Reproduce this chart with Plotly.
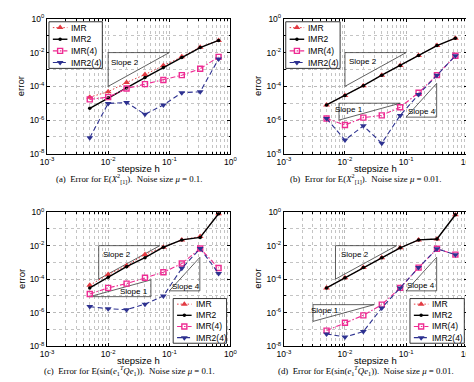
import plotly.graph_objects as go

# ---------------- data ----------------
h = [0.005, 0.01, 0.02, 0.04, 0.08, 0.16, 0.32, 0.64]
series_names = ["IMR", "IMR2", "IMR(4)", "IMR2(4)"]

a_imr = [2.3e-5, 4.8e-5, 1.7e-4, 5.0e-4, 1.7e-3, 5.6e-3, 2.1e-2, 5.3e-2]
a_imr2 = [5.0e-6, 2.1e-5, 8.0e-5, 3.3e-4, 1.3e-3, 5.2e-3, 2.0e-2, 5.3e-2]
a_imr4 = [1.7e-5, 2.3e-5, 7.4e-5, 1.35e-4, 2.4e-4, 4.6e-4, 1.1e-3, 5.6e-3]
a_imr24 = [9.0e-8, 9.8e-6, 1.1e-5, 2.2e-6, 7.9e-6, 4.2e-5, 4.8e-5, 4.2e-3]

b_imr = [7.9e-6, 2.9e-5, 1.1e-4, 4.6e-4, 1.7e-3, 6.7e-3, 2.6e-2, 7.2e-2]
b_imr2 = [7.9e-6, 2.9e-5, 1.1e-4, 4.6e-4, 1.7e-3, 6.7e-3, 2.6e-2, 7.2e-2]
b_imr4 = [1.25e-6, 5.1e-7, 1.4e-6, 1.9e-6, 5.8e-6, 4.2e-5, 4.6e-4, 6.5e-3]
b_imr24 = [1.25e-6, 6.6e-8, 4.6e-7, 4.3e-8, 1.9e-6, 3.3e-5, 4.6e-4, 6.5e-3]

c_imr = [4.3e-5, 1.9e-4, 6.3e-4, 3.0e-3, 8.0e-3, 2.2e-2, 3.5e-2, 0.8]
c_imr2 = [3.0e-5, 1.3e-4, 5.5e-4, 1.9e-3, 8.0e-3, 2.2e-2, 3.1e-2, 0.8]
c_imr4 = [1.3e-5, 3.0e-5, 5.4e-5, 1.2e-4, 2.6e-4, 8.5e-4, 6.7e-3, 4.6e-4]
c_imr24 = [2.3e-6, 1.7e-6, 1.5e-6, 3.2e-6, 1.0e-5, 4.4e-4, 6.7e-3, 2.2e-4]

d_imr = [3.0e-5, 1.2e-4, 4.9e-4, 1.9e-3, 7.4e-3, 2.2e-2, 2.5e-2, 0.7]
d_imr2 = [3.0e-5, 1.2e-4, 4.9e-4, 1.9e-3, 7.4e-3, 2.2e-2, 2.5e-2, 0.7]
d_imr4 = [8.5e-8, 2.5e-7, 6.9e-7, 3.0e-6, 3.0e-5, 4.9e-4, 6.5e-3, 2.9e-3]
d_imr24 = [5.4e-8, 3.5e-8, 7.4e-8, 1.9e-6, 3.0e-5, 4.9e-4, 6.5e-3, 2.9e-3]

x_tickvals = [1e-3, 1e-2, 1e-1, 1]
x_ticktext = ["10<sup>-3</sup>", "10<sup>-2</sup>", "10<sup>-1</sup>", "10<sup>0</sup>"]
y_tickvals = [1e-8, 1e-6, 1e-4, 1e-2, 1]
y_ticktext = ["10<sup>-8</sup>", "10<sup>-6</sup>", "10<sup>-4</sup>", "10<sup>-2</sup>", "10<sup>0</sup>"]

# slope guide triangles (x, y) and label (log10 x, log10 y)
slopes = {
    "a": [([0.01, 0.1, 0.01, 0.01], [1e-4, 1e-2, 1e-2, 1e-4], "Slope 2", (-1.72, -2.57))],
    "b": [([0.01, 0.1, 0.01, 0.01], [1e-4, 1e-2, 1e-2, 1e-4], "Slope 2", (-1.70, -2.53)),
          ([0.008, 0.08, 0.008, 0.008], [1e-6, 1e-5, 1e-5, 1e-6], "Slope 1", (-1.93, -5.39)),
          ([0.1, 0.316, 0.316, 0.1], [1.5e-6, 1.5e-4, 1.5e-6, 1.5e-6], "Slope 4", (-0.74, -5.49))],
    "c": [([0.007, 0.07, 0.007, 0.007], [1e-4, 1e-2, 1e-2, 1e-4], "Slope 2", (-1.86, -2.53)),
          ([0.005, 0.05, 0.05, 0.005], [9e-6, 9e-5, 9e-6, 9e-6], "Slope 1", (-1.57, -4.75)),
          ([0.1, 0.316, 0.316, 0.1], [2e-5, 2e-3, 2e-5, 2e-5], "Slope 4", (-0.72, -4.42))],
    "d": [([0.007, 0.07, 0.007, 0.007], [1e-4, 1e-2, 1e-2, 1e-4], "Slope 2", (-1.84, -2.54)),
          ([0.003, 0.03, 0.003, 0.003], [3e-7, 3e-6, 3e-6, 3e-7], "Slope 1", (-2.32, -5.89)),
          ([0.1, 0.316, 0.316, 0.1], [2e-5, 2e-3, 2e-5, 2e-5], "Slope 4", (-0.76, -4.38))],
}

captions = {
    "a": "(a)  Error for E(<i>X</i><sup>2</sup><sub>[1]</sub>).  Noise size <i>μ</i> = 0.1.",
    "b": "(b)  Error for E(<i>X</i><sup>2</sup><sub>[1]</sub>).  Noise size <i>μ</i> = 0.01.",
    "c": "(c)  Error for E(sin(<i>e</i><sub>1</sub><sup><i>T</i></sup><i>Qe</i><sub>1</sub>)).  Noise size <i>μ</i> = 0.1.",
    "d": "(d)  Error for E(sin(<i>e</i><sub>1</sub><sup><i>T</i></sup><i>Qe</i><sub>1</sub>)).  Noise size <i>μ</i> = 0.01.",
}

data = {
    "a": [a_imr, a_imr2, a_imr4, a_imr24],
    "b": [b_imr, b_imr2, b_imr4, b_imr24],
    "c": [c_imr, c_imr2, c_imr4, c_imr24],
    "d": [d_imr, d_imr2, d_imr4, d_imr24],
}

# ---------------- layout geometry (pixels) ----------------
W, H = 474, 382
panels = {
    "a": dict(n="", x=(33, 222), y=(5, 144), legend=(35, 8, 90, 56), cap_y=170),
    "b": dict(n="2", x=(277, 466), y=(5, 144), legend=(279, 8, 335, 56), cap_y=170),
    "c": dict(n="3", x=(33, 222), y=(204, 342), legend=(163, 293, 218, 339), cap_y=368),
    "d": dict(n="4", x=(277, 466), y=(204, 342), legend=(407, 293, 463, 339), cap_y=368),
}

RED = "#e23a42"
PINK = "#ee2c93"
NAVY = "#2d3190"
FONT = "Liberation Sans, Arial, sans-serif"
SERIF = "Liberation Serif, Times New Roman, serif"

styles = [
    dict(line=dict(color=RED, width=1, dash="1.5px,2px"),
         marker=dict(symbol="triangle-up", size=6, color=RED)),
    dict(line=dict(color="black", width=1.4),
         marker=dict(symbol="circle", size=3.5, color="black")),
    dict(line=dict(color=PINK, width=1.1, dash="5px,2px,1.5px,2px"),
         marker=dict(symbol="square-open", size=5, color=PINK, line=dict(width=1.4, color=PINK))),
    dict(line=dict(color=NAVY, width=1.1, dash="5px,3px"),
         marker=dict(symbol="triangle-down", size=6, color=NAVY)),
]

fig = go.Figure()
layout = dict(width=W, height=H, margin=dict(l=0, r=0, t=0, b=0),
              paper_bgcolor="white", plot_bgcolor="rgba(0,0,0,0)", showlegend=False,
              font=dict(family=FONT, size=9, color="black"))
annotations = []

minor_x = [k * 10 ** e for e in (-3, -2, -1) for k in range(2, 10)]
minor_y = [1e-7, 1e-5, 1e-3, 1e-1]
GRID = dict(gridcolor="#b9b9b9", griddash="dot", gridwidth=0.7)

for key, p in panels.items():
    n = p["n"]
    xname, yname = "x" + n, "y" + n
    xd = [p["x"][0] / W, p["x"][1] / W]
    yd = [1 - p["y"][1] / H, 1 - p["y"][0] / H]
    layout["xaxis" + n] = dict(
        type="log", domain=xd, range=[-3, 0], anchor=yname,
        tickmode="array", tickvals=x_tickvals, ticktext=x_ticktext,
        ticks="inside", ticklen=3, tickcolor="black", tickwidth=0.8,
        showline=True, linecolor="black", linewidth=0.9, mirror="allticks",
        showgrid=True, **GRID, zeroline=False,
        minor=dict(tickmode="array", tickvals=minor_x, showgrid=True, ticks="inside",
                   ticklen=1.8, tickcolor="black", gridcolor="#c4c4c4", griddash="dot", gridwidth=0.6),
        tickfont=dict(family=FONT, size=8.5, color="black"), fixedrange=True)
    layout["yaxis" + n] = dict(
        type="log", domain=yd, range=[-8, 0], anchor=xname,
        tickmode="array", tickvals=y_tickvals, ticktext=y_ticktext,
        ticks="inside", ticklen=3, tickcolor="black", tickwidth=0.8,
        showline=True, linecolor="black", linewidth=0.9, mirror="allticks",
        showgrid=True, **GRID, zeroline=False,
        minor=dict(tickmode="array", tickvals=minor_y, showgrid=True, ticks="inside",
                   ticklen=1.8, tickcolor="black", gridcolor="#c4c4c4", griddash="dot", gridwidth=0.6),
        tickfont=dict(family=FONT, size=8.5, color="black"), fixedrange=True)

    # slope guides
    for sx, sy, label, (lx, ly) in slopes[key]:
        fig.add_trace(go.Scatter(x=sx, y=sy, mode="lines", xaxis=xname, yaxis=yname,
                                 line=dict(color="#3a3a3a", width=0.8), hoverinfo="skip"))
        annotations.append(dict(x=lx, y=ly, xref=xname, yref=yname, text=label, showarrow=False,
                                font=dict(family=FONT, size=8, color="black")))

    # data series
    for name, vals, st in zip(series_names, data[key], styles):
        fig.add_trace(go.Scatter(x=h, y=vals, mode="lines+markers", name=name,
                                 xaxis=xname, yaxis=yname, line=st["line"], marker=st["marker"]))

    # axis titles & captions (pixel positions)
    cx = (p["x"][0] + p["x"][1]) / 2
    cy = (p["y"][0] + p["y"][1]) / 2
    annotations.append(dict(x=cx, y=p["y"][1] + 15, xref="x5", yref="y5", text="stepsize h",
                            showarrow=False, font=dict(family=FONT, size=9.5)))
    annotations.append(dict(x=p["x"][0] - 27, y=cy, xref="x5", yref="y5", text="error",
                            textangle=-90, showarrow=False, font=dict(family=FONT, size=9.5)))
    annotations.append(dict(x=cx - 10, y=p["cap_y"], xref="x5", yref="y5", text=captions[key],
                            showarrow=False, font=dict(family=SERIF, size=8.8)))

# pixel overlay for the legend boxes
layout["xaxis5"] = dict(domain=[0, 1], range=[0, W], visible=False, anchor="y5", fixedrange=True)
layout["yaxis5"] = dict(domain=[0, 1], range=[H, 0], visible=False, anchor="x5", fixedrange=True)

for key, p in panels.items():
    x0, y0, x1, y1 = p["legend"]
    fig.add_trace(go.Scatter(x=[x0, x1, x1, x0, x0], y=[y0, y0, y1, y1, y0], mode="lines",
                             fill="toself", fillcolor="white", line=dict(color="black", width=0.8),
                             xaxis="x5", yaxis="y5", hoverinfo="skip"))
    step = (y1 - y0) / 4
    for i, (name, st) in enumerate(zip(series_names, styles)):
        ry = y0 + step * (i + 0.5)
        fig.add_trace(go.Scatter(x=[x0 + 4, x0 + 19], y=[ry, ry], mode="lines", line=st["line"],
                                 xaxis="x5", yaxis="y5", hoverinfo="skip"))
        fig.add_trace(go.Scatter(x=[x0 + 11.5], y=[ry], mode="markers", marker=st["marker"],
                                 xaxis="x5", yaxis="y5", hoverinfo="skip"))
        annotations.append(dict(x=x0 + 21, y=ry, xref="x5", yref="y5", text=name, xanchor="left",
                                showarrow=False, font=dict(family=FONT, size=8.5)))

layout["annotations"] = annotations
fig.update_layout(**layout)
fig.write_html("out.html")
